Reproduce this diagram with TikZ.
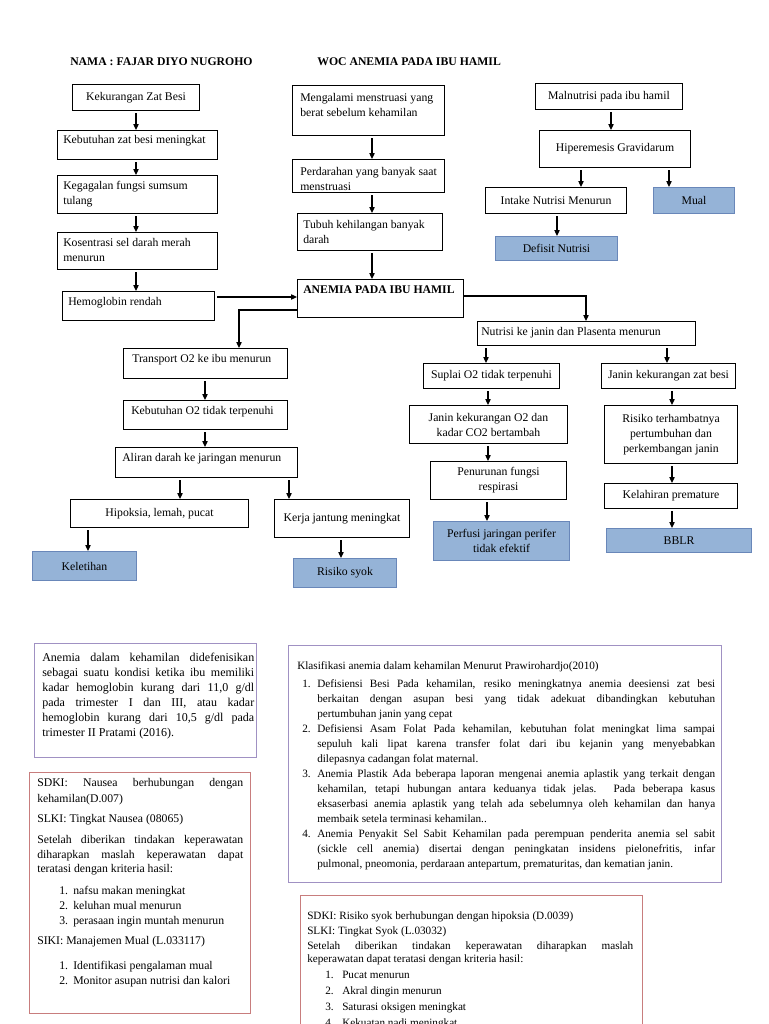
\documentclass[tikz,border=0pt]{standalone}
\usepackage{fontspec}
\setmainfont{Liberation Serif}
\usetikzlibrary{arrows.meta}
\definecolor{bluef}{RGB}{149,179,215}
\definecolor{blued}{RGB}{105,135,185}
\definecolor{purp}{RGB}{160,145,195}
\definecolor{redb}{RGB}{200,125,125}
\newcommand\fsz{\fontsize{8.8pt}{11.25pt}\selectfont}
\tikzset{
  box/.style={draw=black, line width=0.75pt, inner sep=0pt, align=center, font=\fsz},
  bluebox/.style={box, fill=bluef, draw=blued},
  txt/.style={inner sep=0pt, align=left, font=\fsz},
  arr/.style={line width=0.9pt, -{Triangle[length=4.5pt,width=4pt]}, shorten <=1.5pt},
  hdr/.style={inner sep=0pt, font=\fsz\bfseries},
  pbox/.style={draw=purp, line width=1pt, inner sep=0pt},
  rbox/.style={draw=redb, line width=1pt, inner sep=0pt},
  dfont/.style={inner sep=0pt, font=\fontsize{9pt}{11.25pt}\selectfont},
  kfont/.style={inner sep=0pt, font=\fontsize{8.4pt}{11.25pt}\selectfont},
  sfont/.style={inner sep=0pt, font=\fontsize{8.8pt}{11.25pt}\selectfont},
  tfont/.style={inner sep=0pt, font=\fontsize{8.4pt}{11.25pt}\selectfont},
}
% centred box: style, name, x1, y1, x2, y2, text
\newcommand\mkbox[7]{\node[#1, anchor=north west, minimum width={(#5-#3)*0.75pt}, minimum height={(#6-#4)*0.75pt}] (#2) at (#3,#4) {#7};}
% box with top-left text: style, name, x1, y1, x2, y2, dx, dy, text
\newcommand\mktl[9]{\node[#1, anchor=north west, minimum width={(#5-#3)*0.75pt}, minimum height={(#6-#4)*0.75pt}] (#2) at (#3,#4) {};
  \node[txt, anchor=north west] (#2t) at (#3+#7,#4+#8) {#9};}
% vertical arrow at x between two nodes
\newcommand\varr[3]{\draw[arr] (#2.south -| #1,0) -- (#3.north -| #1,0);}
% text line: style, name, x, baseline, text
\newcommand\tx[5]{\node[#1, anchor=base west] (#2) at (#3,#4) {#5};}
% justified line: style, name, x, baseline, width, text
\newcommand\jx[6]{\node[#1, anchor=base west] (#2) at (#3,#4) {\makebox[#5][s]{#6}};}
\begin{document}
\begin{tikzpicture}[x=0.75pt,y=-0.75pt]
\path[use as bounding box, clip] (0,0) rectangle (768,1024);
\fill[white] (0,0) rectangle (768,1024);

% headers
\node[hdr, anchor=base west] (h1) at (70,66) {NAMA : FAJAR DIYO NUGROHO};
\node[hdr, anchor=base west] (h2) at (317,66) {WOC ANEMIA PADA IBU HAMIL};

% left column
\mkbox{box}{kzb}{72}{84}{199}{110}{Kekurangan Zat Besi}
\mktl{box}{kbm}{57}{130}{217}{159}{6}{5}{Kebutuhan zat besi meningkat}
\mktl{box}{kfs}{57}{175}{217}{213}{6}{6}{Kegagalan fungsi sumsum\\tulang}
\mktl{box}{ksd}{57}{232}{217}{269}{6}{6}{Kosentrasi sel darah merah\\menurun}
\mktl{box}{hbr}{62}{291}{214}{320}{6}{6}{Hemoglobin rendah}
\varr{136}{kzb}{kbm}
\varr{136}{kbm}{kfs}
\varr{136}{kfs}{ksd}
\varr{136}{ksd}{hbr}

% middle column
\mktl{box}{mng}{292}{85}{444}{135}{8}{8}{Mengalami menstruasi yang\\berat sebelum kehamilan}
\mktl{box}{prd}{292}{159}{444}{192}{8}{8}{Perdarahan yang banyak saat\\menstruasi}
\mktl{box}{tbh}{297}{213}{442}{250}{6}{7}{Tubuh kehilangan banyak\\darah}
\mktl{box}{anm}{297}{279}{463}{317}{6}{6}{\bfseries ANEMIA PADA IBU HAMIL}
\varr{372}{mng}{prd}
\varr{372}{prd}{tbh}
\varr{372}{tbh}{anm}
\draw[arr] (hbr.east |- 0,297) -- (anm.west |- 0,297);

% right top
\mkbox{box}{mal}{535}{83}{682}{109}{Malnutrisi pada ibu hamil}
\mkbox{box}{hip}{539}{130}{690}{167}{Hiperemesis Gravidarum}
\mkbox{box}{itk}{485}{187}{626}{213}{Intake Nutrisi Menurun}
\mkbox{bluebox}{mual}{653}{187}{734}{213}{Mual}
\mkbox{bluebox}{dfs}{495}{236}{617}{260}{Defisit Nutrisi}
\varr{611}{mal}{hip}
\varr{581}{hip}{itk}
\varr{669}{hip}{mual}
\varr{557}{itk}{dfs}

% left lower
\mktl{box}{trp}{123}{348}{287}{378}{9}{6}{Transport O2 ke ibu menurun}
\mktl{box}{kbo}{123}{400}{287}{429}{8}{6}{Kebutuhan O2 tidak terpenuhi}
\mktl{box}{alr}{115}{447}{297}{477}{7}{6}{Aliran darah ke jaringan menurun}
\mkbox{box}{hpk}{70}{499}{248}{527}{Hipoksia, lemah, pucat}
\mkbox{box}{krj}{274}{499}{409}{537}{Kerja jantung meningkat}
\mkbox{bluebox}{klt}{32}{551}{136}{580}{Keletihan}
\mkbox{bluebox}{rsk}{293}{558}{396}{587}{Risiko syok}
\draw[arr, shorten <=0pt] (anm.west |- 0,310) -| (trp.north -| 239,0);
\varr{205}{trp}{kbo}
\varr{205}{kbo}{alr}
\varr{180}{alr}{hpk}
\varr{289}{alr}{krj}
\varr{88}{hpk}{klt}
\varr{341}{krj}{rsk}

% right lower
\mktl{box}{nut}{477}{321}{695}{345}{4}{6}{Nutrisi ke janin dan Plasenta menurun}
\mkbox{box}{spl}{423}{363}{559}{388}{Suplai O2 tidak terpenuhi}
\mkbox{box}{jzb}{601}{363}{735}{388}{Janin kekurangan zat besi}
\mkbox{box}{jo2}{409}{405}{567}{443}{Janin kekurangan O2 dan\\kadar CO2 bertambah}
\mkbox{box}{pnr}{430}{461}{566}{499}{Penurunan fungsi\\respirasi}
\mkbox{bluebox}{prf}{433}{521}{569}{560}{Perfusi jaringan perifer\\tidak efektif}
\mkbox{box}{rth}{604}{405}{737}{463}{Risiko terhambatnya\\pertumbuhan dan\\perkembangan janin}
\mkbox{box}{klh}{604}{483}{737}{508}{Kelahiran premature}
\mkbox{bluebox}{bblr}{606}{528}{751}{552}{BBLR}
\draw[arr, shorten <=0pt] (anm.east |- 0,296) -| (nut.north -| 586,0);
\varr{486}{nut}{spl}
\varr{667}{nut}{jzb}
\varr{488}{spl}{jo2}
\varr{488}{jo2}{pnr}
\varr{487}{pnr}{prf}
\varr{672}{jzb}{rth}
\varr{672}{rth}{klh}
\varr{672}{klh}{bblr}

% definition box
\mkbox{pbox}{dbx}{34}{643}{256}{757}{}
\jx{dfont}{d1}{42}{661}{159pt}{Anemia dalam kehamilan didefenisikan}
\jx{dfont}{d2}{42}{676}{159pt}{sebagai suatu kondisi ketika ibu memiliki}
\jx{dfont}{d3}{42}{691}{159pt}{kadar hemoglobin kurang dari 11,0 g/dl}
\jx{dfont}{d4}{42}{706}{159pt}{pada trimester I dan III, atau kadar}
\jx{dfont}{d5}{42}{721}{159pt}{hemoglobin kurang dari 10,5 g/dl pada}
\tx{dfont}{d6}{42}{736}{trimester II Pratami (2016).}

% classification box
\mkbox{pbox}{kbx}{288}{645}{721}{882}{}
\tx{kfont}{k0}{297}{669}{Klasifikasi anemia dalam kehamilan Menurut Prawirohardjo(2010)}
\tx{kfont}{kn1}{302}{687}{1.}
\tx{kfont}{kn2}{302}{732}{2.}
\tx{kfont}{kn3}{302}{777}{3.}
\tx{kfont}{kn4}{302}{837}{4.}
\jx{kfont}{k1}{317}{687}{298.5pt}{Defisiensi Besi Pada kehamilan, resiko meningkatnya anemia deesiensi zat besi}
\jx{kfont}{k2}{317}{702}{298.5pt}{berkaitan dengan asupan besi yang tidak adekuat dibandingkan kebutuhan}
\tx{kfont}{k3}{317}{717}{pertumbuhan janin yang cepat}
\jx{kfont}{k4}{317}{732}{298.5pt}{Defisiensi Asam Folat Pada kehamilan, kebutuhan folat meningkat lima sampai}
\jx{kfont}{k5}{317}{747}{298.5pt}{sepuluh kali lipat karena transfer folat dari ibu kejanin yang menyebabkan}
\tx{kfont}{k6}{317}{762}{dilepasnya cadangan folat maternal.}
\jx{kfont}{k7}{317}{777}{298.5pt}{Anemia Plastik Ada beberapa laporan mengenai anemia aplastik yang terkait dengan}
\jx{kfont}{k8}{317}{792}{298.5pt}{kehamilan, tetapi hubungan antara keduanya tidak jelas. Pada beberapa kasus}
\jx{kfont}{k9}{317}{807}{298.5pt}{eksaserbasi anemia aplastik yang telah ada sebelumnya oleh kehamilan dan hanya}
\tx{kfont}{k10}{317}{822}{membaik setela terminasi kehamilan..}
\jx{kfont}{k11}{317}{837}{298.5pt}{Anemia Penyakit Sel Sabit Kehamilan pada perempuan penderita anemia sel sabit}
\jx{kfont}{k12}{317}{852}{298.5pt}{(sickle cell anemia) disertai dengan peningkatan insidens pielonefritis, infar}
\tx{kfont}{k13}{317}{867}{pulmonal, pneomonia, perdaraan antepartum, prematuritas, dan kematian janin.}

% SDKI nausea box
\mkbox{rbox}{sbx}{29}{772}{250}{1013}{}
\jx{sfont}{s1}{37}{786}{154.5pt}{SDKI: Nausea berhubungan dengan}
\tx{sfont}{s2}{37}{802}{kehamilan(D.007)}
\tx{sfont}{s3}{37}{822}{SLKI: Tingkat Nausea (08065)}
\jx{sfont}{s4}{37}{843}{154.5pt}{Setelah diberikan tindakan keperawatan}
\jx{sfont}{s5}{37}{858}{154.5pt}{diharapkan maslah keperawatan dapat}
\tx{sfont}{s6}{37}{872}{teratasi dengan kriteria hasil:}
\tx{sfont}{sn1}{59}{894}{1.}
\tx{sfont}{sn2}{59}{909}{2.}
\tx{sfont}{sn3}{59}{924}{3.}
\tx{sfont}{s7}{73}{894}{nafsu makan meningkat}
\tx{sfont}{s8}{73}{909}{keluhan mual menurun}
\tx{sfont}{s9}{73}{924}{perasaan ingin muntah menurun}
\tx{sfont}{s10}{37}{944}{SIKI: Manajemen Mual (L.033117)}
\tx{sfont}{sn4}{59}{969}{1.}
\tx{sfont}{sn5}{59}{984}{2.}
\tx{sfont}{s11}{73}{969}{Identifikasi pengalaman mual}
\tx{sfont}{s12}{73}{984}{Monitor asupan nutrisi dan kalori}

% SDKI shock box
\mkbox{rbox}{tbx}{300}{895}{642}{1040}{}
\tx{tfont}{t1}{307}{919}{SDKI: Risiko syok berhubungan dengan hipoksia (D.0039)}
\tx{tfont}{t2}{307}{934}{SLKI: Tingkat Syok (L.03032)}
\jx{tfont}{t3}{307}{949}{244.5pt}{Setelah diberikan tindakan keperawatan diharapkan maslah}
\tx{tfont}{t4}{307}{962}{keperawatan dapat teratasi dengan kriteria hasil:}
\tx{tfont}{tn1}{325}{978}{1.}
\tx{tfont}{tn2}{325}{994}{2.}
\tx{tfont}{tn3}{325}{1010}{3.}
\tx{tfont}{tn4}{325}{1026}{4.}
\tx{tfont}{t5}{342}{978}{Pucat menurun}
\tx{tfont}{t6}{342}{994}{Akral dingin menurun}
\tx{tfont}{t7}{342}{1010}{Saturasi oksigen meningkat}
\tx{tfont}{t8}{342}{1026}{Kekuatan nadi meningkat}
\end{tikzpicture}
\end{document}
